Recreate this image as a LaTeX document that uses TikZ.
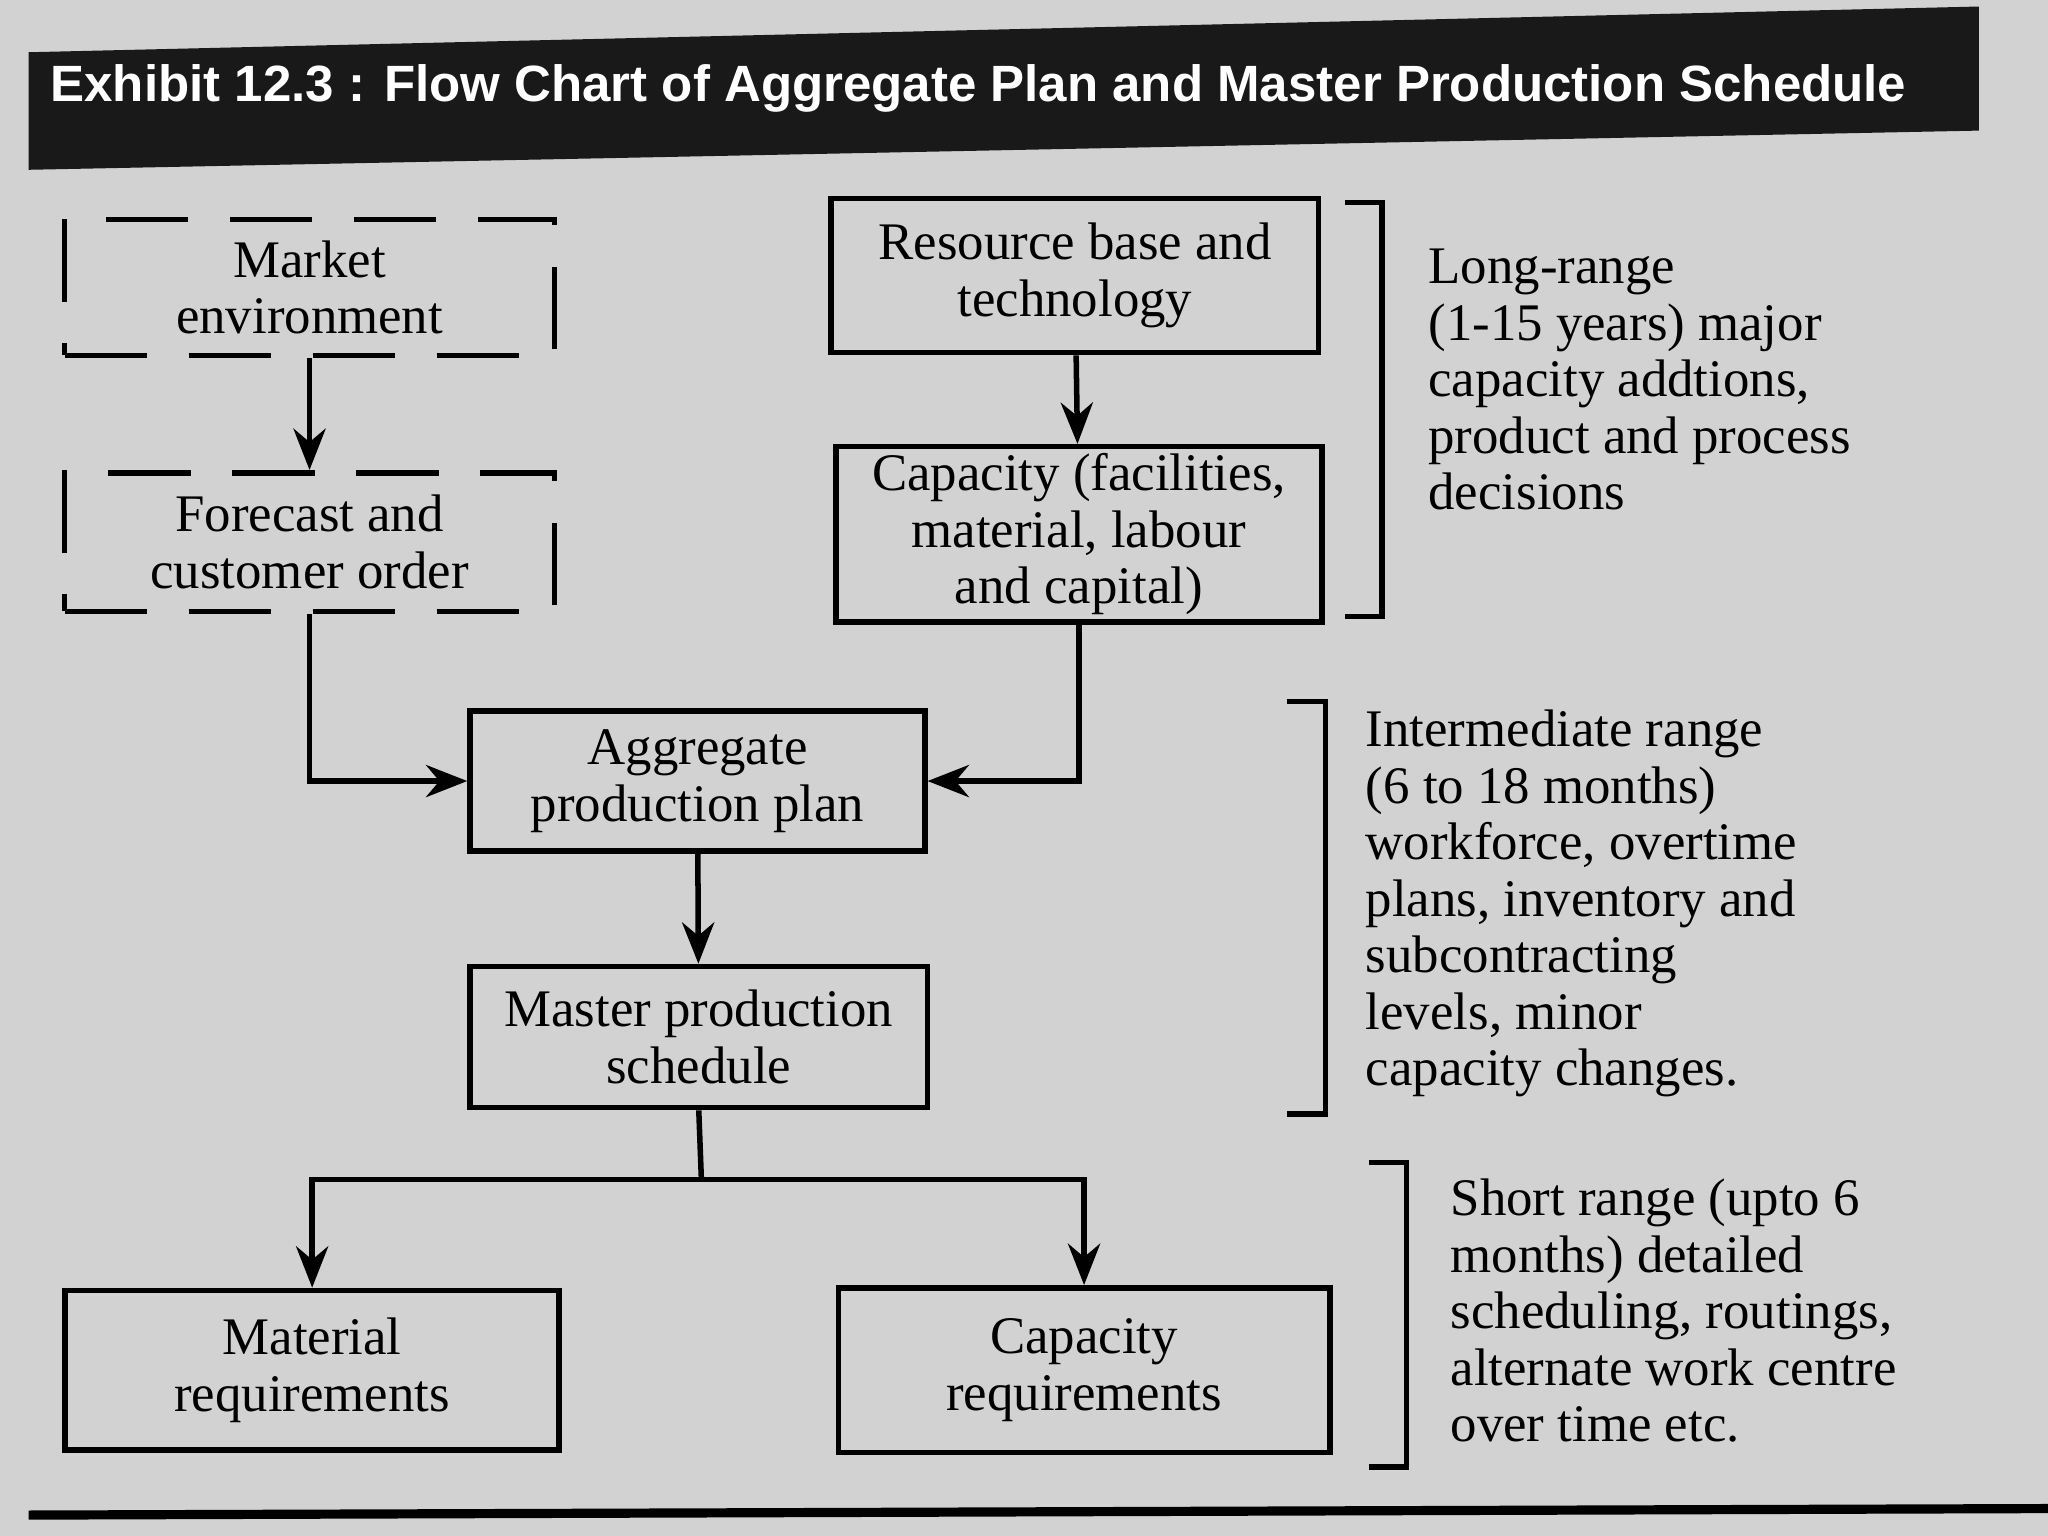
\documentclass[tikz,border=0pt]{standalone}
\usepackage{fontspec}
\setmainfont{Liberation Serif}
\newfontfamily\titlefont{Liberation Sans}
\usetikzlibrary{arrows.meta}
\begin{document}
\begin{tikzpicture}[x=0.01cm,y=-0.01cm,
  box/.style={draw,line width=1.2pt,inner sep=0pt,align=center,font=\fontsize{11.5}{12.3}\selectfont},
  dbox/.style={box,dashed,dash pattern=on 18pt off 9pt},
  arr/.style={line width=1.2pt,-{Stealth[length=9pt,width=7pt]}},
  ln/.style={line width=1.2pt},
  note/.style={anchor=north west,align=left,inner sep=0pt,font=\fontsize{11.5}{12.3}\selectfont}]
\fill[gray!35] (0,0) rectangle (1568,1176);
\useasboundingbox (0,0) rectangle (1568,1176);
\fill[black!90] (22,40) -- (1515,5) -- (1515,100) -- (22,130) -- cycle;
\node[text=white,anchor=west,inner sep=0pt] (title) at (38,68)
  {\resizebox{14.2cm}{!}{\titlefont\bfseries Exhibit 12.3 : Flow Chart of Aggregate Plan and Master Production Schedule}};
\node[dbox,minimum width=3.75cm,minimum height=1.04cm] (mkt) at (237,220) {Market\\environment};
\node[dbox,minimum width=3.75cm,minimum height=1.06cm] (fc) at (237,415) {Forecast and\\customer order};
\node[box,minimum width=3.73cm,minimum height=1.18cm] (res) at (823,211) {Resource base and\\technology};
\node[box,minimum width=3.72cm,minimum height=1.34cm] (cap) at (826,409) {Capacity (facilities,\\material, labour\\and capital)};
\node[box,minimum width=3.48cm,minimum height=1.07cm] (agg) at (534,598) {Aggregate\\production plan};
\node[box,minimum width=3.50cm,minimum height=1.08cm] (mps) at (535,794) {Master production\\schedule};
\node[box,minimum width=3.78cm,minimum height=1.22cm] (mat) at (239,1049) {Material\\requirements};
\node[box,minimum width=3.76cm,minimum height=1.26cm] (creq) at (830,1049) {Capacity\\requirements};
\coordinate (j) at (537,903);
\draw[arr] (mkt) -- (fc);
\draw[arr] (res) -- (cap);
\draw[arr] (fc.south) |- (agg.west);
\draw[arr] (cap.south) |- (agg.east);
\draw[arr] (agg) -- (mps);
\draw[ln] (mps.south) -- (j);
\draw[arr] (j) -| (mat.north);
\draw[arr] (j) -| (creq.north);
\draw[ln] (1030,155) -- (1058,155) -- (1058,472) -- (1030,472);
\draw[ln] (985,537) -- (1015,537) -- (1015,853) -- (985,853);
\draw[ln] (1048,890) -- (1077,890) -- (1077,1123) -- (1048,1123);
\node[note] (n1) at (1093,190) {Long-range\\(1-15 years) major\\capacity addtions,\\product and process\\decisions};
\node[note] (n2) at (1045,543) {Intermediate range\\(6 to 18 months)\\workforce, overtime\\plans, inventory and\\subcontracting\\levels, minor\\capacity changes.};
\node[note] (n3) at (1110,902) {Short range (upto 6\\months) detailed\\scheduling, routings,\\alternate work centre\\over time etc.};
\draw[line width=2pt] (22,1160) -- (1568,1155);
\end{tikzpicture}
\end{document}
